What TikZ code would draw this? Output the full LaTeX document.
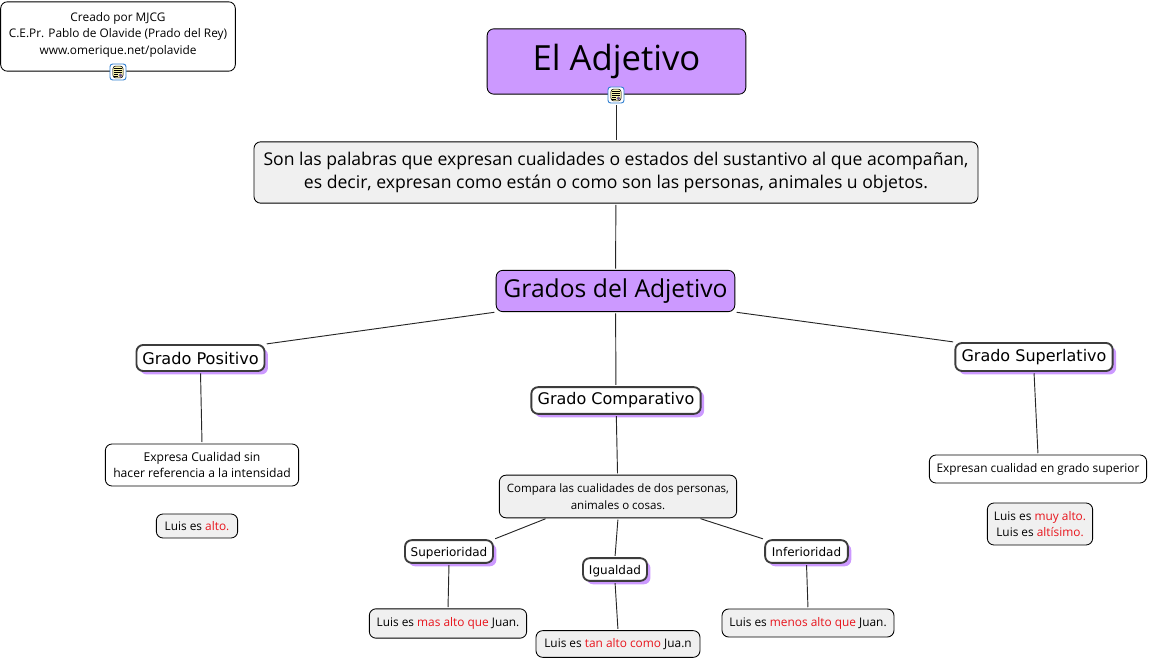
\documentclass[tikz,border=0pt]{standalone}
\usepackage{fontspec}
\setmainfont{Open Sans}
\newfontfamily\verdfont{DejaVu Sans}
\usetikzlibrary{shadows}
\newcommand{\rojo}[1]{\textcolor{rojoT}{#1}}
\definecolor{rojoT}{HTML}{E8141C}
\definecolor{lila}{HTML}{CC99FF}
\definecolor{gris}{HTML}{F0F0F0}
\definecolor{borde}{HTML}{3C3C3C}
\definecolor{azul}{HTML}{2F7FD0}
\definecolor{papel}{HTML}{FBF7B0}
\tikzset{
  caja/.style={draw=black,rounded corners=5pt,line width=0.65pt,align=center,inner sep=0pt,text=black},
  titulo/.style={caja,fill=lila},
  nota/.style={caja,fill=white},
  ejemplo/.style={caja,fill=gris},
  grado/.style={draw=borde,fill=white,rounded corners=5pt,line width=1.4pt,align=center,inner sep=0pt,
    drop shadow={shadow xshift=2.6pt,shadow yshift=-2.6pt,fill=lila,opacity=1}},
  gradito/.style={grado,minimum height=17pt,text height=9pt,text depth=2pt,font=\verdfont\fontsize{9}{11}\selectfont},
  icono/.style={draw=azul,fill=white,rounded corners=2pt,line width=0.7pt,inner sep=0pt,
    minimum width=12pt,minimum height=12pt,
    path picture={
      \fill[papel,draw=black,line width=0.4pt] ([shift={(-3.8pt,-4.4pt)}]path picture bounding box.center) rectangle ([shift={(3.8pt,4.4pt)}]path picture bounding box.center);
      \fill[azul!70!red] ([shift={(0.4pt,-3.9pt)}]path picture bounding box.center) rectangle ([shift={(3.3pt,-1.2pt)}]path picture bounding box.center);
      \draw[black,line width=0.3pt] ([shift={(-2.9pt,0.2pt)}]path picture bounding box.center) -- ++(5.8pt,0) ([shift={(-2.9pt,1.6pt)}]path picture bounding box.center) -- ++(5.8pt,0) ([shift={(-2.9pt,3pt)}]path picture bounding box.center) -- ++(5.8pt,0) ([shift={(-2.9pt,-2.8pt)}]path picture bounding box.center) -- ++(2.6pt,0) ([shift={(-2.9pt,-1.3pt)}]path picture bounding box.center) -- ++(2.6pt,0);
    }},
  enlace/.style={draw=black!85,line width=0.7pt,shorten >=1pt,shorten <=1pt}
}
\begin{document}
\begin{tikzpicture}[x=0.75pt,y=0.75pt,yscale=-1,xscale=1]
\useasboundingbox (0,0) rectangle (1150,659);
% cabecera
\node[nota,minimum width=176pt,minimum height=52pt,font=\fontsize{8.9}{12.4}\selectfont] (credito) at (118,36.5) {Creado por MJCG\\C.E.Pr. Pablo de Olavide (Prado del Rey)\\www.omerique.net/polavide\rule[-5.2pt]{0pt}{1pt}};
\node[titulo,minimum width=194pt,minimum height=49pt,font=\fontsize{26}{30}\selectfont] (adjetivo) at (616.5,61.5) {El Adjetivo};
\node[ejemplo,minimum width=543pt,minimum height=46pt,font=\fontsize{13.2}{17.5}\selectfont] (definicion) at (616,172.5) {Son las palabras que expresan cualidades o estados del sustantivo al que acompañan,\\es decir, expresan como están o como son las personas, animales u objetos.};
\node[titulo,minimum width=179pt,minimum height=31pt,font=\fontsize{18.5}{22}\selectfont] (grados) at (615.5,291) {Grados del Adjetivo};
\node[icono] (iconoA) at (118,72) {};
\node[icono] (iconoB) at (616,95) {};
% grados
\node[grado,minimum width=96pt,minimum height=19.5pt,font=\verdfont\fontsize{12.1}{14}\selectfont] (positivo) at (200.5,358) {Grado Positivo};
\node[grado,minimum width=127pt,minimum height=20pt,font=\verdfont\fontsize{12}{14}\selectfont] (comparativo) at (616,400.5) {Grado Comparativo};
\node[grado,minimum width=118pt,minimum height=21pt,font=\verdfont\fontsize{12}{14}\selectfont] (superlativo) at (1034,357) {Grado Superlativo};
% explicaciones
\node[nota,minimum width=145pt,minimum height=31.5pt,font=\fontsize{9.1}{12.4}\selectfont] (expresa) at (202,465) {Expresa Cualidad sin\\hacer referencia a la intensidad};
\node[ejemplo,minimum width=178pt,minimum height=32pt,font=\fontsize{8.65}{12.4}\selectfont] (compara) at (618,496.5) {Compara las cualidades de dos personas,\\animales o cosas.};
\node[nota,minimum width=163pt,minimum height=21pt,font=\fontsize{8.9}{11}\selectfont] (expresan) at (1038,469) {Expresan cualidad en grado superior};
\node[ejemplo,minimum width=61pt,minimum height=18pt,font=\fontsize{8.9}{11}\selectfont] (exAlto) at (197,526) {Luis es \rojo{alto.}};
\node[ejemplo,minimum width=79pt,minimum height=31.5pt,font=\fontsize{8.9}{12.4}\selectfont] (exMuy) at (1040,524) {Luis es \rojo{muy alto.}\\Luis es \rojo{altísimo.}};
% comparativos
\node[gradito,minimum width=66pt] (superioridad) at (449,551.5) {Superioridad};
\node[gradito,minimum width=48pt] (igualdad) at (615,569.5) {Igualdad};
\node[gradito,minimum width=62pt] (inferioridad) at (806.5,551.5) {Inferioridad};
\node[ejemplo,minimum width=118pt,minimum height=22pt,font=\fontsize{8.9}{11}\selectfont] (exMas) at (448,623.5) {Luis es \rojo{mas alto que} Juan.};
\node[ejemplo,minimum width=123pt,minimum height=20pt,font=\fontsize{8.9}{11}\selectfont] (exTan) at (618,644) {Luis es \rojo{tan alto como} Jua.n};
\node[ejemplo,minimum width=129pt,minimum height=21pt,font=\fontsize{8.9}{11}\selectfont] (exMenos) at (808,623) {Luis es \rojo{menos alto que} Juan.};
% enlaces
\draw[enlace] (iconoB) -- (definicion.north);
\draw[enlace] (definicion) -- (grados);
\draw[enlace] (grados.south west) -- (positivo.north east);
\draw[enlace] (grados) -- (comparativo);
\draw[enlace] (grados.south east) -- (superlativo.north west);
\draw[enlace] (positivo.south) -- (expresa.north);
\draw[enlace] (comparativo) -- (compara);
\draw[enlace] (superlativo.south) -- (expresan.north);
\draw[enlace] (compara.197) -- (superioridad.north east);
\draw[enlace] (compara.south) -- (igualdad.north);
\draw[enlace] (compara.345.3) -- (inferioridad.north west);
\draw[enlace] (superioridad.south) -- (exMas.north);
\draw[enlace] (igualdad.south) -- (exTan.north);
\draw[enlace] (inferioridad.south) -- (exMenos.north);
\end{tikzpicture}
\end{document}
